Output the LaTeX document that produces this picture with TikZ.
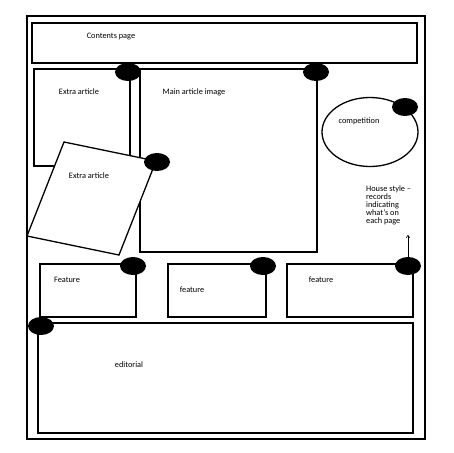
\documentclass[tikz,border=0pt]{standalone}
\usepackage{fontspec}
\setmainfont{Carlito}
\usetikzlibrary{shapes.geometric,arrows.meta}
\tikzset{
  box/.style={draw, line width=1.3pt, rectangle, inner sep=0pt, fill=white},
  dot/.style={ellipse, fill=black, inner sep=0pt, minimum width=26pt, minimum height=18pt},
  lbl/.style={font=\fontsize{8.3}{8.5}\selectfont, inner sep=0pt}
}
\begin{document}
\begin{tikzpicture}[x=1pt,y=-1pt]
\useasboundingbox (0,0) rectangle (453,453);
% outer frame
\node[box, line width=2pt, minimum width=398pt, minimum height=423pt] (frame) at (226,227.5) {};
% contents
\node[box, minimum width=385pt, minimum height=40pt] (contents) at (224.5,43) {};
\node[lbl] (tcontents) at (111,37) {Contents page};
% extra article 1
\node[box, minimum width=96pt, minimum height=97pt] (extra1) at (82,117.5) {};
\node[lbl] (textra1) at (79,92) {Extra article};
% main article
\node[box, minimum width=177pt, minimum height=183pt] (main) at (228.5,160.5) {};
\node[lbl] (tmain) at (194,92) {Main article image};
% tilted extra article 2
\coordinate (e2a) at (64,142);
\coordinate (e2b) at (156,161);
\coordinate (e2c) at (119,255);
\coordinate (e2d) at (27,236);
\draw[line width=1.3pt, fill=white, line join=miter] (e2a) -- (e2b) -- (e2c) -- (e2d) -- cycle;
\node[lbl] (textra2) at (89,176) {Extra article};
% competition
\node[draw, line width=1.3pt, ellipse, inner sep=0pt, minimum width=96pt, minimum height=69pt] (comp) at (370,132) {};
\node[lbl] (tcomp) at (359,121) {competition};
% house style
\node[lbl, align=left, anchor=north west, font=\fontsize{8.3}{8}\selectfont] (house) at (366,186) {House style --\\records\\indicating\\what’s on\\each page};
% features
\node[box, minimum width=96pt, minimum height=53pt] (f1) at (88,290.5) {};
\node[lbl] (tf1) at (67,280) {Feature};
\node[box, minimum width=98pt, minimum height=53pt] (f2) at (217,290.5) {};
\node[lbl] (tf2) at (192,290) {feature};
\node[box, minimum width=126pt, minimum height=53pt] (f3) at (350,290.5) {};
\node[lbl] (tf3) at (321,280) {feature};
% editorial
\node[box, minimum width=375pt, minimum height=110pt] (edit) at (225.5,378) {};
\node[lbl] (tedit) at (129,365) {editorial};
% dots
\node[dot] (d1) at (128,72) {};
\node[dot] (d2) at (316,72) {};
\node[dot] (d3) at (157,162) {};
\node[dot] (d4) at (405,107) {};
\node[dot] (d5) at (133,266) {};
\node[dot] (d6) at (263,266) {};
\node[dot] (d7) at (408,266) {};
\node[dot] (d8) at (41,326) {};
% arrow
\coordinate (arrtip) at (408,235);
\draw[line width=0.6pt, -{To[length=3pt,width=4pt]}] (d7.north) -- (arrtip);
\end{tikzpicture}
\end{document}
